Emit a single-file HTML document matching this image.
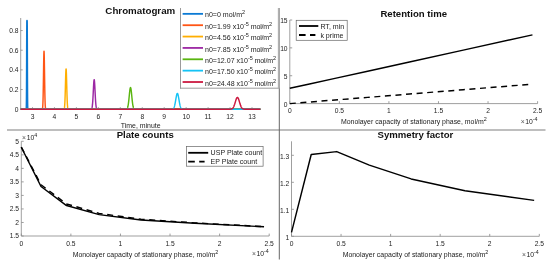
<!DOCTYPE html>
<html><head><meta charset="utf-8"><title>Chromatogram figure</title>
<style>html,body{margin:0;padding:0;background:#fff}svg{display:block}</style></head>
<body>
<svg width="550" height="266" viewBox="0 0 550 266" font-family="'Liberation Sans', sans-serif">
<rect width="550" height="266" fill="#fff"/>
<line x1="7.00" y1="130.00" x2="545.50" y2="130.00" stroke="#a8a8a8" stroke-width="1.3" />
<line x1="279.30" y1="8.00" x2="279.30" y2="259.50" stroke="#666" stroke-width="1.0" />
<line x1="20.70" y1="18.00" x2="20.70" y2="109.20" stroke="#8e8e8e" stroke-width="0.85" />
<line x1="20.70" y1="109.20" x2="260.30" y2="109.20" stroke="#8e8e8e" stroke-width="0.85" />
<line x1="20.70" y1="109.20" x2="22.70" y2="109.20" stroke="#8e8e8e" stroke-width="0.85" />
<text x="18.50" y="111.60" font-size="6.7" text-anchor="end" font-weight="normal" fill="#222" >0</text>
<line x1="20.70" y1="89.54" x2="22.70" y2="89.54" stroke="#8e8e8e" stroke-width="0.85" />
<text x="18.50" y="91.94" font-size="6.7" text-anchor="end" font-weight="normal" fill="#222" >0.2</text>
<line x1="20.70" y1="69.88" x2="22.70" y2="69.88" stroke="#8e8e8e" stroke-width="0.85" />
<text x="18.50" y="72.28" font-size="6.7" text-anchor="end" font-weight="normal" fill="#222" >0.4</text>
<line x1="20.70" y1="50.22" x2="22.70" y2="50.22" stroke="#8e8e8e" stroke-width="0.85" />
<text x="18.50" y="52.62" font-size="6.7" text-anchor="end" font-weight="normal" fill="#222" >0.6</text>
<line x1="20.70" y1="30.56" x2="22.70" y2="30.56" stroke="#8e8e8e" stroke-width="0.85" />
<text x="18.50" y="32.96" font-size="6.7" text-anchor="end" font-weight="normal" fill="#222" >0.8</text>
<line x1="32.50" y1="109.20" x2="32.50" y2="107.20" stroke="#8e8e8e" stroke-width="0.85" />
<text x="32.50" y="119.00" font-size="6.7" text-anchor="middle" font-weight="normal" fill="#222" >3</text>
<line x1="54.45" y1="109.20" x2="54.45" y2="107.20" stroke="#8e8e8e" stroke-width="0.85" />
<text x="54.45" y="119.00" font-size="6.7" text-anchor="middle" font-weight="normal" fill="#222" >4</text>
<line x1="76.40" y1="109.20" x2="76.40" y2="107.20" stroke="#8e8e8e" stroke-width="0.85" />
<text x="76.40" y="119.00" font-size="6.7" text-anchor="middle" font-weight="normal" fill="#222" >5</text>
<line x1="98.35" y1="109.20" x2="98.35" y2="107.20" stroke="#8e8e8e" stroke-width="0.85" />
<text x="98.35" y="119.00" font-size="6.7" text-anchor="middle" font-weight="normal" fill="#222" >6</text>
<line x1="120.30" y1="109.20" x2="120.30" y2="107.20" stroke="#8e8e8e" stroke-width="0.85" />
<text x="120.30" y="119.00" font-size="6.7" text-anchor="middle" font-weight="normal" fill="#222" >7</text>
<line x1="142.25" y1="109.20" x2="142.25" y2="107.20" stroke="#8e8e8e" stroke-width="0.85" />
<text x="142.25" y="119.00" font-size="6.7" text-anchor="middle" font-weight="normal" fill="#222" >8</text>
<line x1="164.20" y1="109.20" x2="164.20" y2="107.20" stroke="#8e8e8e" stroke-width="0.85" />
<text x="164.20" y="119.00" font-size="6.7" text-anchor="middle" font-weight="normal" fill="#222" >9</text>
<line x1="186.15" y1="109.20" x2="186.15" y2="107.20" stroke="#8e8e8e" stroke-width="0.85" />
<text x="186.15" y="119.00" font-size="6.7" text-anchor="middle" font-weight="normal" fill="#222" >10</text>
<line x1="208.10" y1="109.20" x2="208.10" y2="107.20" stroke="#8e8e8e" stroke-width="0.85" />
<text x="208.10" y="119.00" font-size="6.7" text-anchor="middle" font-weight="normal" fill="#222" >11</text>
<line x1="230.05" y1="109.20" x2="230.05" y2="107.20" stroke="#8e8e8e" stroke-width="0.85" />
<text x="230.05" y="119.00" font-size="6.7" text-anchor="middle" font-weight="normal" fill="#222" >12</text>
<line x1="252.00" y1="109.20" x2="252.00" y2="107.20" stroke="#8e8e8e" stroke-width="0.85" />
<text x="252.00" y="119.00" font-size="6.7" text-anchor="middle" font-weight="normal" fill="#222" >13</text>
<text x="140.70" y="127.60" font-size="6.95" text-anchor="middle" font-weight="normal" fill="#222" >Time, minute</text>
<text x="140.30" y="14.00" font-size="9.75" text-anchor="middle" font-weight="bold" fill="#111" >Chromatogram</text>
<polyline points="20.70,109.20 26.26,109.12 26.28,109.09 26.30,109.04 26.32,108.98 26.34,108.90 26.36,108.79 26.38,108.65 26.39,108.46 26.41,108.22 26.43,107.90 26.45,107.51 26.47,107.00 26.49,106.38 26.51,105.61 26.52,104.66 26.54,103.52 26.56,102.16 26.58,100.55 26.60,98.65 26.62,96.46 26.64,93.95 26.66,91.09 26.68,87.90 26.69,84.36 26.71,80.48 26.73,76.29 26.75,71.81 26.77,67.10 26.79,62.21 26.81,57.22 26.82,52.19 26.84,47.23 26.86,42.42 26.88,37.87 26.90,33.68 26.92,29.93 26.94,26.74 26.96,24.16 26.97,22.27 26.99,21.12 27.01,20.73 27.03,21.12 27.05,22.27 27.07,24.16 27.09,26.74 27.11,29.93 27.12,33.68 27.14,37.87 27.16,42.42 27.18,47.23 27.20,52.19 27.22,57.22 27.24,62.21 27.26,67.10 27.27,71.81 27.29,76.29 27.31,80.48 27.33,84.36 27.35,87.90 27.37,91.09 27.39,93.95 27.41,96.46 27.43,98.65 27.44,100.55 27.46,102.16 27.48,103.52 27.50,104.66 27.52,105.61 27.54,106.38 27.56,107.00 27.57,107.51 27.59,107.90 27.61,108.22 27.63,108.46 27.65,108.65 27.67,108.79 27.69,108.90 27.71,108.98 27.72,109.04 27.74,109.09 27.76,109.12 260.30,109.20" fill="none" stroke="#0B7AD4" stroke-width="1.8" stroke-linejoin="round" />
<polyline points="20.70,109.20 42.07,109.15 42.12,109.13 42.17,109.10 42.22,109.06 42.27,109.01 42.32,108.93 42.37,108.84 42.41,108.72 42.46,108.56 42.51,108.35 42.56,108.09 42.61,107.76 42.66,107.35 42.71,106.84 42.76,106.23 42.80,105.48 42.85,104.59 42.90,103.53 42.95,102.29 43.00,100.85 43.05,99.20 43.10,97.33 43.15,95.23 43.20,92.91 43.24,90.37 43.29,87.62 43.34,84.69 43.39,81.60 43.44,78.40 43.49,75.12 43.54,71.83 43.59,68.57 43.63,65.42 43.68,62.44 43.73,59.69 43.78,57.24 43.83,55.14 43.88,53.45 43.93,52.21 43.98,51.46 44.02,51.20 44.07,51.46 44.12,52.21 44.17,53.45 44.22,55.14 44.27,57.24 44.32,59.69 44.37,62.44 44.41,65.42 44.46,68.57 44.51,71.83 44.56,75.12 44.61,78.40 44.66,81.60 44.71,84.69 44.76,87.62 44.80,90.37 44.85,92.91 44.90,95.23 44.95,97.33 45.00,99.20 45.05,100.85 45.10,102.29 45.14,103.53 45.19,104.59 45.24,105.48 45.29,106.23 45.34,106.84 45.39,107.35 45.44,107.76 45.49,108.09 45.53,108.35 45.58,108.56 45.63,108.72 45.68,108.84 45.73,108.93 45.78,109.01 45.83,109.06 45.88,109.10 45.92,109.13 45.97,109.15 260.30,109.20" fill="none" stroke="#FF5515" stroke-width="1.45" stroke-linejoin="round" />
<polyline points="20.70,109.20 63.68,109.16 63.74,109.15 63.80,109.13 63.86,109.10 63.92,109.06 63.98,109.01 64.04,108.95 64.10,108.86 64.16,108.75 64.22,108.61 64.28,108.43 64.34,108.20 64.40,107.91 64.46,107.56 64.52,107.13 64.58,106.61 64.64,105.99 64.70,105.26 64.76,104.40 64.82,103.40 64.88,102.25 64.94,100.95 65.00,99.50 65.06,97.88 65.12,96.12 65.18,94.21 65.24,92.17 65.30,90.02 65.36,87.80 65.42,85.52 65.48,83.23 65.54,80.97 65.60,78.78 65.66,76.70 65.72,74.79 65.78,73.09 65.84,71.63 65.90,70.46 65.96,69.60 66.02,69.07 66.08,68.90 66.14,69.07 66.20,69.60 66.26,70.46 66.32,71.63 66.38,73.09 66.44,74.79 66.50,76.70 66.56,78.78 66.62,80.97 66.68,83.23 66.74,85.52 66.80,87.80 66.86,90.02 66.92,92.17 66.98,94.21 67.04,96.12 67.10,97.88 67.16,99.50 67.22,100.95 67.28,102.25 67.34,103.40 67.40,104.40 67.46,105.26 67.52,105.99 67.58,106.61 67.64,107.13 67.70,107.56 67.76,107.91 67.82,108.20 67.88,108.43 67.94,108.61 68.00,108.75 68.06,108.86 68.12,108.95 68.18,109.01 68.24,109.06 68.30,109.10 68.36,109.13 68.42,109.15 68.48,109.16 260.30,109.20" fill="none" stroke="#FFAE00" stroke-width="1.45" stroke-linejoin="round" />
<polyline points="20.70,109.20 90.88,109.17 90.96,109.16 91.04,109.15 91.13,109.13 91.21,109.10 91.29,109.06 91.37,109.02 91.46,108.95 91.54,108.87 91.62,108.77 91.70,108.64 91.79,108.47 91.87,108.26 91.95,108.00 92.03,107.69 92.12,107.31 92.20,106.85 92.28,106.32 92.36,105.68 92.45,104.95 92.53,104.12 92.61,103.16 92.69,102.10 92.78,100.92 92.86,99.63 92.94,98.23 93.02,96.74 93.11,95.17 93.19,93.54 93.27,91.87 93.35,90.20 93.44,88.54 93.52,86.94 93.60,85.42 93.68,84.03 93.77,82.78 93.85,81.71 93.93,80.85 94.01,80.22 94.10,79.84 94.18,79.71 94.26,79.84 94.34,80.22 94.43,80.85 94.51,81.71 94.59,82.78 94.67,84.03 94.76,85.42 94.84,86.94 94.92,88.54 95.00,90.20 95.09,91.87 95.17,93.54 95.25,95.17 95.33,96.74 95.42,98.23 95.50,99.63 95.58,100.92 95.66,102.10 95.75,103.16 95.83,104.12 95.91,104.95 95.99,105.68 96.08,106.32 96.16,106.85 96.24,107.31 96.32,107.69 96.41,108.00 96.49,108.26 96.57,108.47 96.65,108.64 96.74,108.77 96.82,108.87 96.90,108.95 96.98,109.02 97.07,109.06 97.15,109.10 97.23,109.13 97.31,109.15 97.40,109.16 97.48,109.17 260.30,109.20" fill="none" stroke="#9C28A4" stroke-width="1.45" stroke-linejoin="round" />
<polyline points="20.70,109.20 125.71,109.18 125.83,109.17 125.95,109.16 126.07,109.15 126.19,109.13 126.31,109.10 126.43,109.07 126.55,109.02 126.67,108.96 126.79,108.88 126.91,108.79 127.03,108.66 127.15,108.51 127.27,108.32 127.39,108.09 127.51,107.81 127.63,107.48 127.75,107.08 127.87,106.62 127.99,106.09 128.11,105.47 128.23,104.77 128.35,103.99 128.47,103.13 128.59,102.18 128.71,101.15 128.83,100.06 128.95,98.91 129.07,97.71 129.19,96.49 129.31,95.26 129.43,94.05 129.55,92.88 129.67,91.76 129.79,90.74 129.91,89.82 130.03,89.04 130.15,88.41 130.27,87.95 130.39,87.67 130.51,87.57 130.63,87.67 130.75,87.95 130.87,88.41 130.99,89.04 131.11,89.82 131.23,90.74 131.35,91.76 131.47,92.88 131.59,94.05 131.71,95.26 131.83,96.49 131.95,97.71 132.07,98.91 132.19,100.06 132.31,101.15 132.43,102.18 132.55,103.13 132.67,103.99 132.79,104.77 132.91,105.47 133.03,106.09 133.15,106.62 133.27,107.08 133.39,107.48 133.51,107.81 133.63,108.09 133.75,108.32 133.87,108.51 133.99,108.66 134.11,108.79 134.23,108.88 134.35,108.96 134.47,109.02 134.59,109.07 134.71,109.10 134.83,109.13 134.95,109.15 135.07,109.16 135.19,109.17 135.31,109.18 260.30,109.20" fill="none" stroke="#5AB510" stroke-width="1.45" stroke-linejoin="round" />
<polyline points="20.70,109.20 171.37,109.19 171.52,109.18 171.67,109.17 171.82,109.16 171.97,109.15 172.12,109.13 172.27,109.10 172.42,109.07 172.57,109.03 172.72,108.97 172.87,108.90 173.02,108.81 173.17,108.70 173.32,108.56 173.47,108.39 173.62,108.19 173.77,107.95 173.92,107.66 174.07,107.33 174.22,106.94 174.37,106.49 174.52,105.98 174.67,105.41 174.82,104.78 174.97,104.09 175.12,103.35 175.27,102.55 175.42,101.72 175.57,100.85 175.72,99.96 175.87,99.07 176.02,98.18 176.17,97.33 176.32,96.52 176.47,95.77 176.62,95.11 176.77,94.54 176.92,94.08 177.07,93.75 177.22,93.54 177.37,93.47 177.52,93.54 177.67,93.75 177.82,94.08 177.97,94.54 178.12,95.11 178.27,95.77 178.42,96.52 178.57,97.33 178.72,98.18 178.87,99.07 179.02,99.96 179.17,100.85 179.32,101.72 179.47,102.55 179.62,103.35 179.77,104.09 179.92,104.78 180.07,105.41 180.22,105.98 180.37,106.49 180.52,106.94 180.67,107.33 180.82,107.66 180.97,107.95 181.12,108.19 181.27,108.39 181.42,108.56 181.57,108.70 181.72,108.81 181.87,108.90 182.02,108.97 182.17,109.03 182.32,109.07 182.47,109.10 182.62,109.13 182.77,109.15 182.92,109.16 183.07,109.17 183.22,109.18 183.37,109.19 260.30,109.20" fill="none" stroke="#15C3F5" stroke-width="1.45" stroke-linejoin="round" />
<polyline points="20.70,109.20 229.53,109.19 229.73,109.19 229.92,109.18 230.12,109.17 230.32,109.16 230.51,109.15 230.71,109.13 230.91,109.10 231.10,109.07 231.30,109.03 231.50,108.97 231.69,108.91 231.89,108.82 232.09,108.72 232.28,108.60 232.48,108.44 232.68,108.26 232.88,108.05 233.07,107.79 233.27,107.50 233.47,107.17 233.66,106.79 233.86,106.36 234.06,105.89 234.25,105.37 234.45,104.81 234.65,104.22 234.84,103.59 235.04,102.94 235.24,102.27 235.43,101.60 235.63,100.94 235.83,100.30 236.03,99.69 236.22,99.13 236.42,98.63 236.62,98.20 236.81,97.86 237.01,97.61 237.21,97.46 237.40,97.40 237.60,97.46 237.80,97.61 237.99,97.86 238.19,98.20 238.39,98.63 238.58,99.13 238.78,99.69 238.98,100.30 239.18,100.94 239.37,101.60 239.57,102.27 239.77,102.94 239.96,103.59 240.16,104.22 240.36,104.81 240.55,105.37 240.75,105.89 240.95,106.36 241.14,106.79 241.34,107.17 241.54,107.50 241.73,107.79 241.93,108.05 242.13,108.26 242.33,108.44 242.52,108.60 242.72,108.72 242.92,108.82 243.11,108.91 243.31,108.97 243.51,109.03 243.70,109.07 243.90,109.10 244.10,109.13 244.29,109.15 244.49,109.16 244.69,109.17 244.88,109.18 245.08,109.19 245.28,109.19 260.30,109.20" fill="none" stroke="#CC1940" stroke-width="1.45" stroke-linejoin="round" />
<rect x="181" y="8" width="98.3" height="80.3" fill="#fff"/>
<line x1="180.50" y1="8.00" x2="180.50" y2="88.60" stroke="#969696" stroke-width="0.95" />
<line x1="180.00" y1="88.20" x2="279.90" y2="88.20" stroke="#969696" stroke-width="0.95" />
<line x1="278.50" y1="8.00" x2="278.50" y2="88.60" stroke="#b0b0b0" stroke-width="1.3" />
<line x1="182.60" y1="13.85" x2="203.00" y2="13.85" stroke="#0B7AD4" stroke-width="1.8" />
<text x="205.00" y="17.45" font-size="7.05" text-anchor="start" font-weight="normal" fill="#222" >n0=0 mol/m<tspan dy="-2.96" font-size="5.50">2</tspan></text>
<line x1="182.60" y1="25.21" x2="203.00" y2="25.21" stroke="#FF5515" stroke-width="1.8" />
<text x="205.00" y="28.81" font-size="7.05" text-anchor="start" font-weight="normal" fill="#222" >n0=1.99 x10<tspan dy="-2.96" font-size="5.50">-5</tspan><tspan dy="2.96" letter-spacing="-0.17"> mol/m</tspan><tspan dy="-2.96" font-size="5.50">2</tspan></text>
<line x1="182.60" y1="36.57" x2="203.00" y2="36.57" stroke="#FFAE00" stroke-width="1.8" />
<text x="205.00" y="40.17" font-size="7.05" text-anchor="start" font-weight="normal" fill="#222" >n0=4.56 x10<tspan dy="-2.96" font-size="5.50">-5</tspan><tspan dy="2.96" letter-spacing="-0.17"> mol/m</tspan><tspan dy="-2.96" font-size="5.50">2</tspan></text>
<line x1="182.60" y1="47.93" x2="203.00" y2="47.93" stroke="#9C28A4" stroke-width="1.8" />
<text x="205.00" y="51.53" font-size="7.05" text-anchor="start" font-weight="normal" fill="#222" >n0=7.85 x10<tspan dy="-2.96" font-size="5.50">-5</tspan><tspan dy="2.96" letter-spacing="-0.17"> mol/m</tspan><tspan dy="-2.96" font-size="5.50">2</tspan></text>
<line x1="182.60" y1="59.29" x2="203.00" y2="59.29" stroke="#5AB510" stroke-width="1.8" />
<text x="205.00" y="62.89" font-size="7.05" text-anchor="start" font-weight="normal" fill="#222" >n0=12.07 x10<tspan dy="-2.96" font-size="5.50">-5</tspan><tspan dy="2.96" letter-spacing="-0.17"> mol/m</tspan><tspan dy="-2.96" font-size="5.50">2</tspan></text>
<line x1="182.60" y1="70.65" x2="203.00" y2="70.65" stroke="#15C3F5" stroke-width="1.8" />
<text x="205.00" y="74.25" font-size="7.05" text-anchor="start" font-weight="normal" fill="#222" >n0=17.50 x10<tspan dy="-2.96" font-size="5.50">-5</tspan><tspan dy="2.96" letter-spacing="-0.17"> mol/m</tspan><tspan dy="-2.96" font-size="5.50">2</tspan></text>
<line x1="182.60" y1="82.01" x2="203.00" y2="82.01" stroke="#CC1940" stroke-width="1.8" />
<text x="205.00" y="85.61" font-size="7.05" text-anchor="start" font-weight="normal" fill="#222" >n0=24.48 x10<tspan dy="-2.96" font-size="5.50">-5</tspan><tspan dy="2.96" letter-spacing="-0.17"> mol/m</tspan><tspan dy="-2.96" font-size="5.50">2</tspan></text>
<line x1="289.80" y1="20.00" x2="289.80" y2="103.60" stroke="#8e8e8e" stroke-width="0.85" />
<line x1="289.80" y1="103.60" x2="537.60" y2="103.60" stroke="#8e8e8e" stroke-width="0.85" />
<line x1="289.80" y1="103.60" x2="292.20" y2="103.60" stroke="#8e8e8e" stroke-width="0.85" />
<text x="287.60" y="106.60" font-size="6.7" text-anchor="end" font-weight="normal" fill="#222" >0</text>
<line x1="289.80" y1="75.73" x2="292.20" y2="75.73" stroke="#8e8e8e" stroke-width="0.85" />
<text x="287.60" y="78.73" font-size="6.7" text-anchor="end" font-weight="normal" fill="#222" >5</text>
<line x1="289.80" y1="47.87" x2="292.20" y2="47.87" stroke="#8e8e8e" stroke-width="0.85" />
<text x="287.60" y="50.87" font-size="6.7" text-anchor="end" font-weight="normal" fill="#222" >10</text>
<line x1="289.80" y1="20.00" x2="292.20" y2="20.00" stroke="#8e8e8e" stroke-width="0.85" />
<text x="287.60" y="23.00" font-size="6.7" text-anchor="end" font-weight="normal" fill="#222" >15</text>
<line x1="289.80" y1="103.60" x2="289.80" y2="101.20" stroke="#8e8e8e" stroke-width="0.85" />
<text x="289.80" y="112.90" font-size="6.7" text-anchor="middle" font-weight="normal" fill="#222" >0</text>
<line x1="339.36" y1="103.60" x2="339.36" y2="101.20" stroke="#8e8e8e" stroke-width="0.85" />
<text x="339.36" y="112.90" font-size="6.7" text-anchor="middle" font-weight="normal" fill="#222" >0.5</text>
<line x1="388.92" y1="103.60" x2="388.92" y2="101.20" stroke="#8e8e8e" stroke-width="0.85" />
<text x="388.92" y="112.90" font-size="6.7" text-anchor="middle" font-weight="normal" fill="#222" >1</text>
<line x1="438.48" y1="103.60" x2="438.48" y2="101.20" stroke="#8e8e8e" stroke-width="0.85" />
<text x="438.48" y="112.90" font-size="6.7" text-anchor="middle" font-weight="normal" fill="#222" >1.5</text>
<line x1="488.04" y1="103.60" x2="488.04" y2="101.20" stroke="#8e8e8e" stroke-width="0.85" />
<text x="488.04" y="112.90" font-size="6.7" text-anchor="middle" font-weight="normal" fill="#222" >2</text>
<line x1="537.60" y1="103.60" x2="537.60" y2="101.20" stroke="#8e8e8e" stroke-width="0.85" />
<text x="537.60" y="112.90" font-size="6.7" text-anchor="middle" font-weight="normal" fill="#222" >2.5</text>
<text x="413.80" y="124.00" font-size="6.93" text-anchor="middle" font-weight="normal" fill="#222" >Monolayer capacity of stationary phase, mol/m<tspan dy="-2.91" font-size="5.41">2</tspan></text>
<text x="520.70" y="123.80" font-size="6.8" text-anchor="start" font-weight="normal" fill="#222" ><tspan fill="#555">×</tspan><tspan dx="0.5">10</tspan><tspan dy="-2.86" font-size="5.30">-4</tspan></text>
<text x="413.70" y="16.70" font-size="9.6" text-anchor="middle" font-weight="bold" fill="#111" >Retention time</text>
<polyline points="289.80,88.27 309.52,83.95 335.00,78.35 367.61,71.22 409.44,62.00 463.26,50.10 532.45,34.85" fill="none" stroke="#000" stroke-width="1.45" stroke-linejoin="round" />
<polyline points="289.80,103.60 309.52,102.03 335.00,99.99 367.61,97.40 409.44,94.04 463.26,89.72 532.45,84.17" fill="none" stroke="#000" stroke-width="1.45" stroke-linejoin="round" stroke-dasharray="6,4.6"/>
<rect x="296.2" y="20.3" width="51.0" height="20" fill="#fff" stroke="#666" stroke-width="0.7"/>
<line x1="299.00" y1="26.00" x2="318.30" y2="26.00" stroke="#000" stroke-width="1.8" />
<line x1="299.00" y1="35.00" x2="318.30" y2="35.00" stroke="#000" stroke-width="1.8" stroke-dasharray="6.6,4.4,5.4,10"/>
<text x="320.40" y="28.50" font-size="7.05" text-anchor="start" font-weight="normal" fill="#222" >RT, min</text>
<text x="320.40" y="37.50" font-size="7.05" text-anchor="start" font-weight="normal" fill="#222" >k prime</text>
<line x1="21.30" y1="141.30" x2="21.30" y2="236.00" stroke="#8e8e8e" stroke-width="0.85" />
<line x1="21.30" y1="236.00" x2="269.20" y2="236.00" stroke="#8e8e8e" stroke-width="0.85" />
<line x1="21.30" y1="236.00" x2="23.70" y2="236.00" stroke="#8e8e8e" stroke-width="0.85" />
<text x="19.10" y="238.40" font-size="6.7" text-anchor="end" font-weight="normal" fill="#222" >1.5</text>
<line x1="21.30" y1="222.47" x2="23.70" y2="222.47" stroke="#8e8e8e" stroke-width="0.85" />
<text x="19.10" y="224.87" font-size="6.7" text-anchor="end" font-weight="normal" fill="#222" >2</text>
<line x1="21.30" y1="208.94" x2="23.70" y2="208.94" stroke="#8e8e8e" stroke-width="0.85" />
<text x="19.10" y="211.34" font-size="6.7" text-anchor="end" font-weight="normal" fill="#222" >2.5</text>
<line x1="21.30" y1="195.41" x2="23.70" y2="195.41" stroke="#8e8e8e" stroke-width="0.85" />
<text x="19.10" y="197.81" font-size="6.7" text-anchor="end" font-weight="normal" fill="#222" >3</text>
<line x1="21.30" y1="181.89" x2="23.70" y2="181.89" stroke="#8e8e8e" stroke-width="0.85" />
<text x="19.10" y="184.29" font-size="6.7" text-anchor="end" font-weight="normal" fill="#222" >3.5</text>
<line x1="21.30" y1="168.36" x2="23.70" y2="168.36" stroke="#8e8e8e" stroke-width="0.85" />
<text x="19.10" y="170.76" font-size="6.7" text-anchor="end" font-weight="normal" fill="#222" >4</text>
<line x1="21.30" y1="154.83" x2="23.70" y2="154.83" stroke="#8e8e8e" stroke-width="0.85" />
<text x="19.10" y="157.23" font-size="6.7" text-anchor="end" font-weight="normal" fill="#222" >4.5</text>
<line x1="21.30" y1="141.30" x2="23.70" y2="141.30" stroke="#8e8e8e" stroke-width="0.85" />
<text x="19.10" y="143.70" font-size="6.7" text-anchor="end" font-weight="normal" fill="#222" >5</text>
<line x1="21.30" y1="236.00" x2="21.30" y2="233.60" stroke="#8e8e8e" stroke-width="0.85" />
<text x="21.30" y="245.80" font-size="6.7" text-anchor="middle" font-weight="normal" fill="#222" >0</text>
<line x1="70.88" y1="236.00" x2="70.88" y2="233.60" stroke="#8e8e8e" stroke-width="0.85" />
<text x="70.88" y="245.80" font-size="6.7" text-anchor="middle" font-weight="normal" fill="#222" >0.5</text>
<line x1="120.46" y1="236.00" x2="120.46" y2="233.60" stroke="#8e8e8e" stroke-width="0.85" />
<text x="120.46" y="245.80" font-size="6.7" text-anchor="middle" font-weight="normal" fill="#222" >1</text>
<line x1="170.04" y1="236.00" x2="170.04" y2="233.60" stroke="#8e8e8e" stroke-width="0.85" />
<text x="170.04" y="245.80" font-size="6.7" text-anchor="middle" font-weight="normal" fill="#222" >1.5</text>
<line x1="219.62" y1="236.00" x2="219.62" y2="233.60" stroke="#8e8e8e" stroke-width="0.85" />
<text x="219.62" y="245.80" font-size="6.7" text-anchor="middle" font-weight="normal" fill="#222" >2</text>
<line x1="269.20" y1="236.00" x2="269.20" y2="233.60" stroke="#8e8e8e" stroke-width="0.85" />
<text x="269.20" y="245.80" font-size="6.7" text-anchor="middle" font-weight="normal" fill="#222" >2.5</text>
<text x="145.50" y="256.50" font-size="6.93" text-anchor="middle" font-weight="normal" fill="#222" >Monolayer capacity of stationary phase, mol/m<tspan dy="-2.91" font-size="5.41">2</tspan></text>
<text x="252.00" y="256.00" font-size="6.8" text-anchor="start" font-weight="normal" fill="#222" ><tspan fill="#555">×</tspan><tspan dx="0.5">10</tspan><tspan dy="-2.86" font-size="5.30">-4</tspan></text>
<text x="22.00" y="140.30" font-size="6.8" text-anchor="start" font-weight="normal" fill="#222" ><tspan fill="#555">×</tspan><tspan dx="0.8">10</tspan><tspan dy="-2.86" font-size="5.30">4</tspan></text>
<text x="145.20" y="138.40" font-size="9.6" text-anchor="middle" font-weight="bold" fill="#111" >Plate counts</text>
<polyline points="21.30,146.98 41.03,184.73 66.52,203.94 99.14,213.41 140.99,219.22 194.83,222.88 264.04,226.67" fill="none" stroke="#000" stroke-width="1.45" stroke-linejoin="round" stroke-dasharray="6,4.6"/>
<polyline points="21.30,147.25 41.03,186.49 66.52,205.56 99.14,214.62 140.99,220.04 194.83,223.28 264.04,226.80" fill="none" stroke="#000" stroke-width="1.45" stroke-linejoin="round" />
<rect x="186.5" y="146.6" width="76.6" height="19.6" fill="#fff" stroke="#666" stroke-width="0.7"/>
<line x1="188.20" y1="152.80" x2="208.20" y2="152.80" stroke="#000" stroke-width="1.8" />
<line x1="188.20" y1="161.70" x2="208.20" y2="161.70" stroke="#000" stroke-width="1.8" stroke-dasharray="6.6,4.4,5.4,10"/>
<text x="210.60" y="155.30" font-size="7.05" text-anchor="start" font-weight="normal" fill="#222" >USP Plate count</text>
<text x="210.60" y="164.20" font-size="7.05" text-anchor="start" font-weight="normal" fill="#222" >EP Plate count</text>
<line x1="291.50" y1="141.30" x2="291.50" y2="236.30" stroke="#8e8e8e" stroke-width="0.85" />
<line x1="291.50" y1="236.30" x2="539.30" y2="236.30" stroke="#8e8e8e" stroke-width="0.85" />
<line x1="291.50" y1="236.30" x2="293.90" y2="236.30" stroke="#8e8e8e" stroke-width="0.85" />
<text x="289.30" y="239.50" font-size="6.7" text-anchor="end" font-weight="normal" fill="#222" >1</text>
<line x1="291.50" y1="209.30" x2="293.90" y2="209.30" stroke="#8e8e8e" stroke-width="0.85" />
<text x="289.30" y="212.50" font-size="6.7" text-anchor="end" font-weight="normal" fill="#222" >1.1</text>
<line x1="291.50" y1="182.30" x2="293.90" y2="182.30" stroke="#8e8e8e" stroke-width="0.85" />
<text x="289.30" y="185.50" font-size="6.7" text-anchor="end" font-weight="normal" fill="#222" >1.2</text>
<line x1="291.50" y1="155.30" x2="293.90" y2="155.30" stroke="#8e8e8e" stroke-width="0.85" />
<text x="289.30" y="158.50" font-size="6.7" text-anchor="end" font-weight="normal" fill="#222" >1.3</text>
<line x1="291.50" y1="236.30" x2="291.50" y2="233.90" stroke="#8e8e8e" stroke-width="0.85" />
<text x="291.50" y="245.90" font-size="6.7" text-anchor="middle" font-weight="normal" fill="#222" >0</text>
<line x1="341.06" y1="236.30" x2="341.06" y2="233.90" stroke="#8e8e8e" stroke-width="0.85" />
<text x="341.06" y="245.90" font-size="6.7" text-anchor="middle" font-weight="normal" fill="#222" >0.5</text>
<line x1="390.62" y1="236.30" x2="390.62" y2="233.90" stroke="#8e8e8e" stroke-width="0.85" />
<text x="390.62" y="245.90" font-size="6.7" text-anchor="middle" font-weight="normal" fill="#222" >1</text>
<line x1="440.18" y1="236.30" x2="440.18" y2="233.90" stroke="#8e8e8e" stroke-width="0.85" />
<text x="440.18" y="245.90" font-size="6.7" text-anchor="middle" font-weight="normal" fill="#222" >1.5</text>
<line x1="489.74" y1="236.30" x2="489.74" y2="233.90" stroke="#8e8e8e" stroke-width="0.85" />
<text x="489.74" y="245.90" font-size="6.7" text-anchor="middle" font-weight="normal" fill="#222" >2</text>
<line x1="539.30" y1="236.30" x2="539.30" y2="233.90" stroke="#8e8e8e" stroke-width="0.85" />
<text x="539.30" y="245.90" font-size="6.7" text-anchor="middle" font-weight="normal" fill="#222" >2.5</text>
<text x="415.50" y="256.60" font-size="6.93" text-anchor="middle" font-weight="normal" fill="#222" >Monolayer capacity of stationary phase, mol/m<tspan dy="-2.91" font-size="5.41">2</tspan></text>
<text x="522.00" y="256.60" font-size="6.8" text-anchor="start" font-weight="normal" fill="#222" ><tspan fill="#555">×</tspan><tspan dx="0.5">10</tspan><tspan dy="-2.86" font-size="5.30">-4</tspan></text>
<text x="415.40" y="138.10" font-size="9.6" text-anchor="middle" font-weight="bold" fill="#111" >Symmetry factor</text>
<polyline points="291.50,232.41 311.22,154.49 336.70,151.60 369.31,165.10 411.14,178.93 464.96,190.67 534.15,200.39" fill="none" stroke="#000" stroke-width="1.45" stroke-linejoin="round" />
</svg>
</body></html>
